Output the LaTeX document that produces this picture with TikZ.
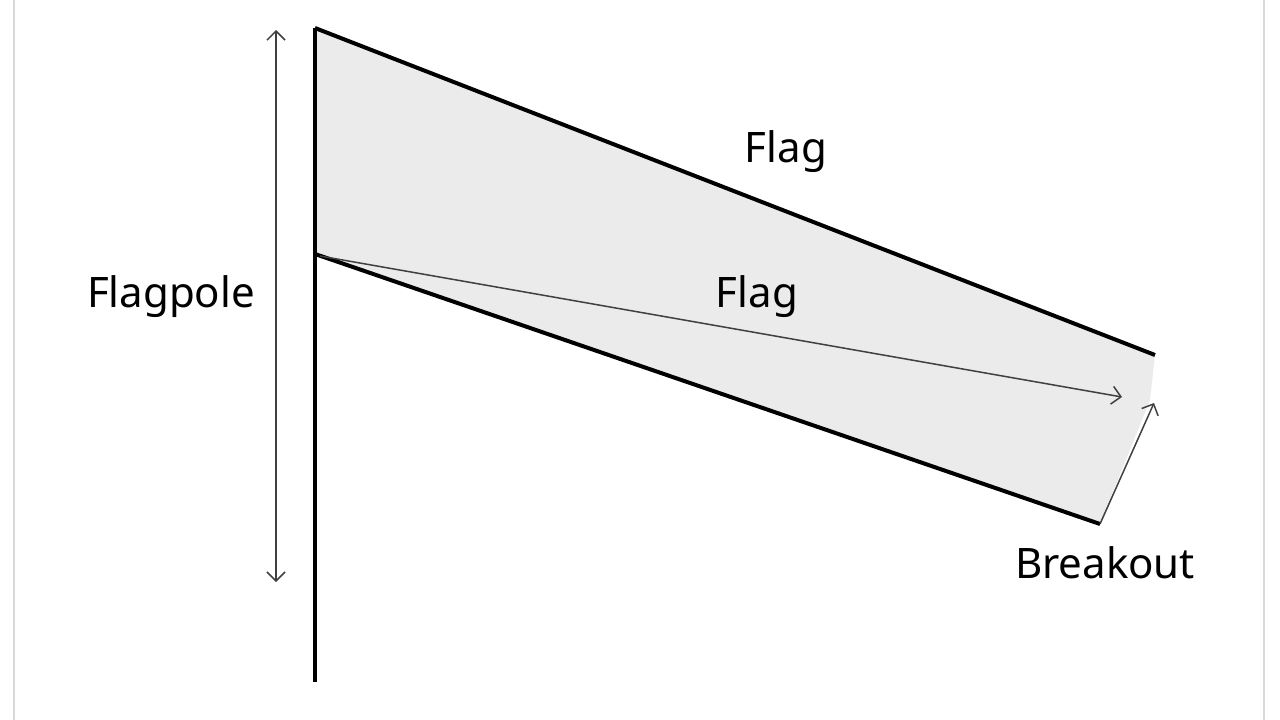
\documentclass[tikz,border=0pt]{standalone}
\usepackage{fontspec}
\setmainfont{Noto Sans}
\usetikzlibrary{arrows.meta}
\begin{document}
\begin{tikzpicture}[x=1pt,y=-1pt,
  lbl/.style={font=\fontsize{42}{48}\selectfont, inner sep=0pt},
  thin arrow/.style={draw=black!75, line width=1.5pt, -{Straight Barb[length=9pt,width=18pt]}},
  edge/.style={line width=4pt, black}]
\useasboundingbox (0,0) rectangle (1280,720);
\draw[black!15, line width=1.5pt] (14,0) -- (14,720) (1264,0) -- (1264,720);
\coordinate (top) at (315,28);
\coordinate (mid) at (315,254);
\coordinate (bot) at (315,682);
\coordinate (ur) at (1155,355);
\coordinate (lr) at (1100,524);
\coordinate (fe) at (1122,397);
\coordinate (be) at (1154,403);
\fill[black!8] (top) -- (ur) -- (1150,400) -- (lr) -- (mid) -- cycle;
\draw[edge] (top) -- (ur);
\draw[edge] (mid) -- (lr);
\draw[edge] (top) -- (bot);
\draw[thin arrow] (320,256) -- (fe);
\draw[thin arrow] (lr) -- (be);
\draw[draw=black!75, line width=1.5pt, {Straight Barb[length=9pt,width=18pt]}-{Straight Barb[length=9pt,width=18pt]}] (276,30) -- (276,582);
\node[lbl] (flag1) at (786,152) {Flag};
\node[lbl] (flag2) at (757,297) {Flag};
\node[lbl] (pole) at (171,297) {Flagpole};
\node[lbl] (brk) at (1105,563) {Breakout};
\end{tikzpicture}
\end{document}
